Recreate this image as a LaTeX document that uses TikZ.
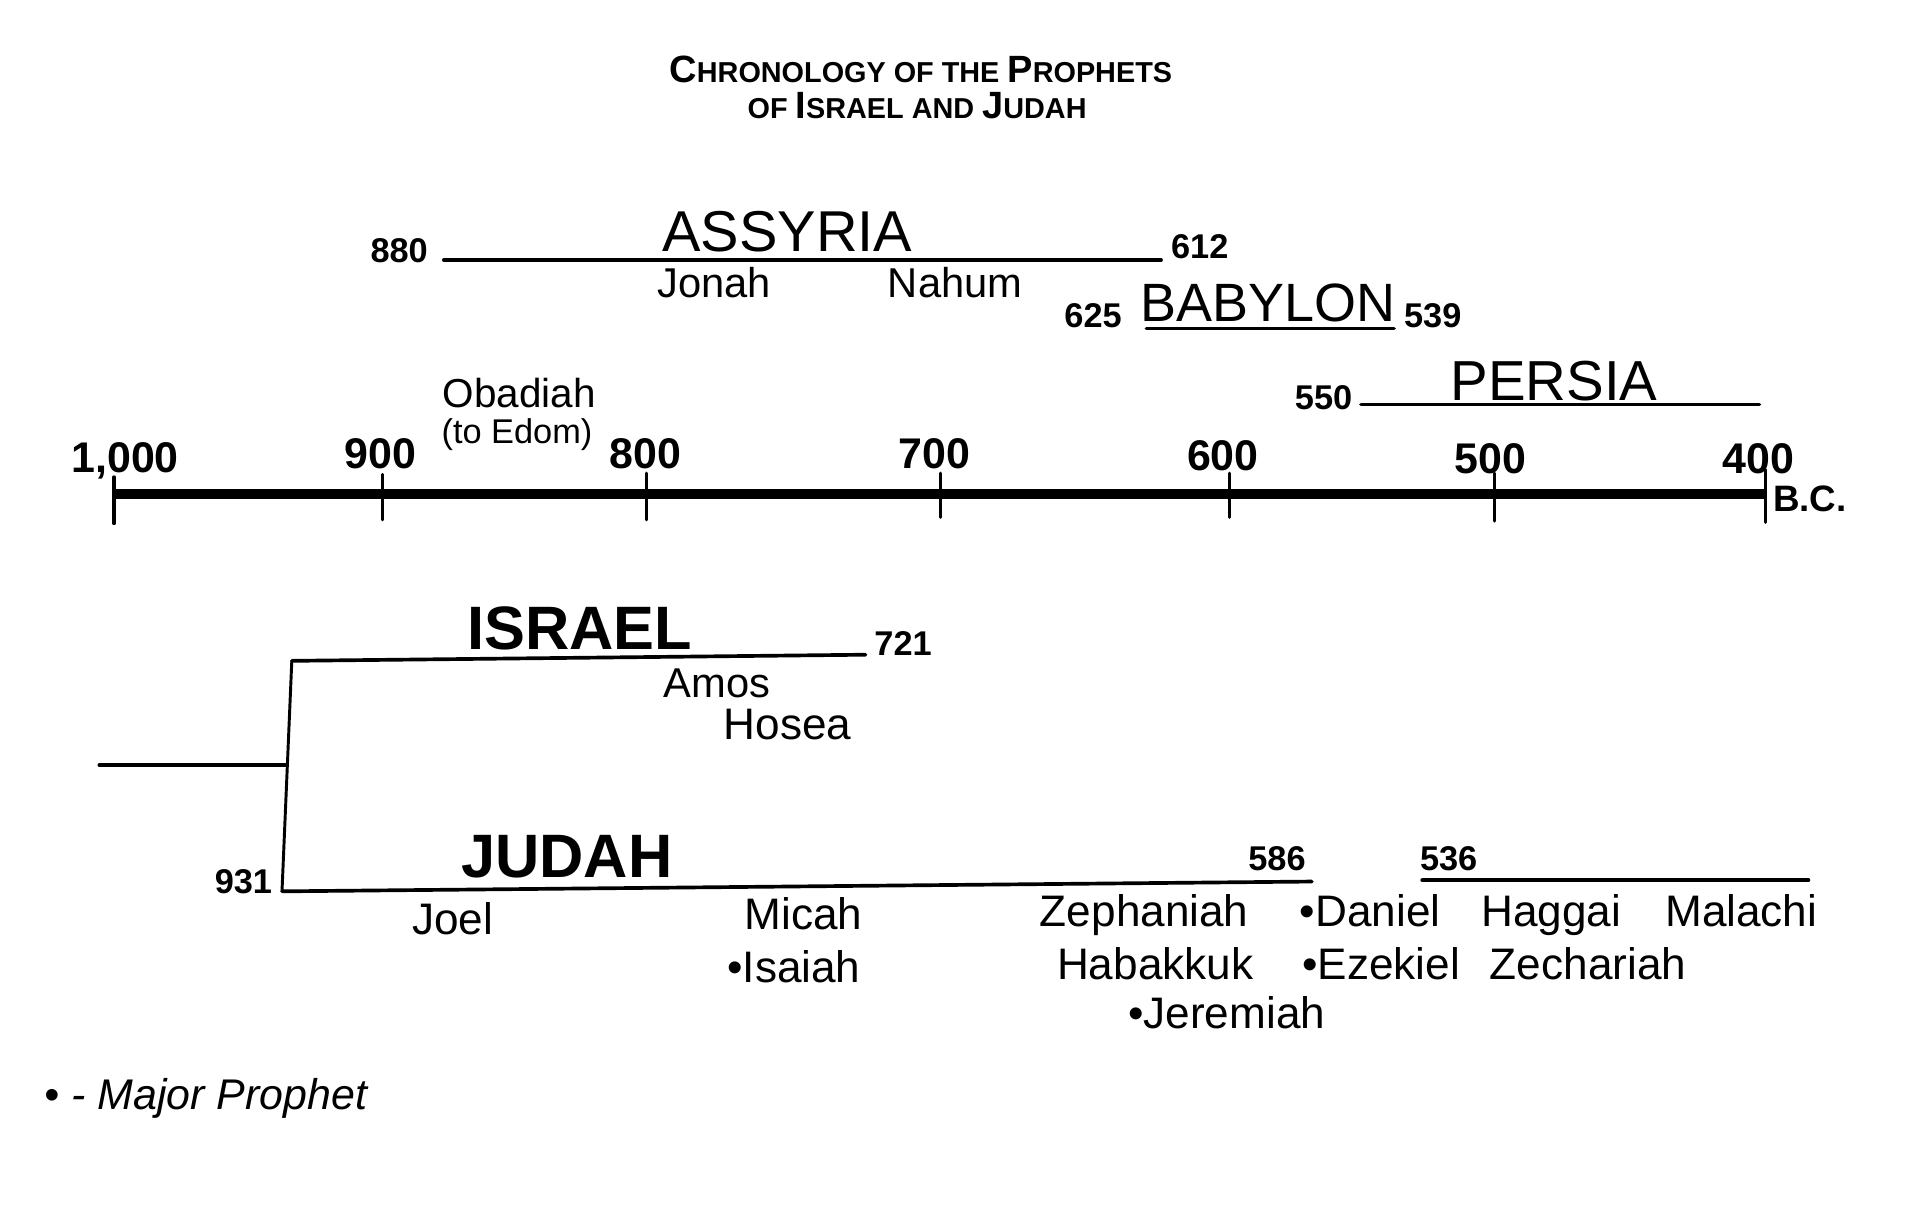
\documentclass[tikz,border=0pt]{standalone}
\usepackage{fontspec}
\setmainfont{Liberation Sans}
\newcommand\myfs[1]{\fontsize{#1}{#1}\selectfont}
\newcommand\bigc[1]{{\myfs{31}#1}}
\newcommand\smc[1]{{\myfs{23.5}#1}}
\begin{document}
\begin{tikzpicture}[x=1pt,y=-1pt,
  lbl/.style={inner sep=0pt, anchor=base west},
  num/.style={lbl, font=\bfseries\myfs{28}},
  axnum/.style={lbl, font=\bfseries\myfs{35}},
  prophet/.style={lbl, font=\myfs{34}},
  jprophet/.style={lbl, font=\myfs{36}},
  empire/.style={lbl, font=\myfs{46}},
  kingdom/.style={lbl, font=\bfseries\myfs{50}},
  ttl/.style={inner sep=0pt, anchor=base, font=\bfseries\myfs{23.5}},
  bar/.style={line width=3pt, line cap=round},
  axis/.style={line width=8pt},
  tick/.style={line width=2.6pt, line cap=round},
  branch/.style={line width=2.4pt}]
\useasboundingbox (0,0) rectangle (1566,995);

% title
\node[ttl] (t1) at (751,67) {\bigc{C}\smc{HRONOLOGY} \smc{OF} \smc{THE} \bigc{P}\smc{ROPHETS}};
\node[ttl] (t2) at (748,97) {\smc{OF} \bigc{I}\smc{SRAEL} \smc{AND} \bigc{J}\smc{UDAH}};

% Assyria
\node[empire, font=\myfs{47}] (assyria) at (540,205) {ASSYRIA};
\node[num] (n880) at (302,214) {880};
\node[num] (n612) at (955,211) {612};
\coordinate (asL) at (362,212);
\coordinate (asR) at (947,212);
\draw[bar] (asL) -- (asR);
\node[prophet] (jonah) at (536,243) {Jonah};
\node[prophet] (nahum) at (724,243) {Nahum};

% Babylon
\node[num] (n625) at (868,267) {625};
\node[empire, font=\myfs{44}] (babylon) at (930,262) {BABYLON};
\node[num] (n539) at (1145,267) {539};
\coordinate (bbL) at (935,268);
\coordinate (bbR) at (1137,268);
\draw[bar] (bbL) -- (bbR);

% Persia
\node[empire] (persia) at (1183,327) {PERSIA};
\node[num] (n550) at (1056,334) {550};
\coordinate (psL) at (1110,330);
\coordinate (psR) at (1435,330);
\draw[bar] (psL) -- (psR);

% Obadiah
\node[prophet, font=\myfs{33}] (obadiah) at (361,332) {Obadiah};
\node[prophet, font=\myfs{28}] (edom) at (360,362) {(to Edom)};

% axis
\node[axnum] (a1000) at (58,385) {1,000};
\node[axnum] (a900) at (281,382) {900};
\node[axnum] (a800) at (497,382) {800};
\node[axnum] (a700) at (733,382) {700};
\node[axnum] (a600) at (968,384) {600};
\node[axnum] (a500) at (1186,386) {500};
\node[axnum] (a400) at (1405,386) {400};
\coordinate (axL) at (93,403);
\coordinate (axR) at (1440,403);
\draw[axis] (axL) -- (axR);
\draw[tick] (93,389) -- (93,427);
\draw[tick] (312,387) -- (312,424);
\draw[tick] (527,386) -- (527,424);
\draw[tick] (767,386) -- (767,422);
\draw[tick] (1003,386) -- (1003,422);
\draw[tick] (1219,386) -- (1219,425);
\draw[tick] (1440,383) -- (1440,426);
\node[lbl, font=\bfseries\myfs{30}] (bc) at (1446,417) {B.C.};

% Israel
\node[kingdom] (israel) at (381,530) {ISRAEL};
\node[num] (n721) at (713,535) {721};
\coordinate (isL) at (238,539);
\coordinate (isR) at (706,534);
\draw[bar] (isL) -- (isR);
\node[prophet] (amos) at (541,569) {Amos};
\node[jprophet] (hosea) at (590,603) {Hosea};

% split
\coordinate (stem) at (81,624);
\coordinate (fork) at (234,624);
\coordinate (jdL) at (230,727);
\coordinate (jdR) at (1070,719);
\draw[bar] (stem) -- (fork);
\draw[branch] (isL) -- (jdL);
\draw[bar] (jdL) -- (jdR);

% Judah
\node[kingdom] (judah) at (376,716) {JUDAH};
\node[num] (n931) at (175,729) {931};
\node[num] (n586) at (1018,710) {586};
\node[num] (n536) at (1158,710) {536};
\coordinate (rtL) at (1160,718);
\coordinate (rtR) at (1475,718);
\draw[bar] (rtL) -- (rtR);

\node[jprophet] (joel) at (336,762) {Joel};
\node[jprophet] (micah) at (607,758) {Micah};
\node[jprophet] (isaiah) at (593,801) {•Isaiah};
\node[jprophet] (zeph) at (848,756) {Zephaniah};
\node[jprophet] (habak) at (862,799) {Habakkuk};
\node[jprophet] (jerem) at (920,839) {•Jeremiah};
\node[jprophet] (daniel) at (1060,756) {•Daniel};
\node[jprophet] (ezek) at (1062,799) {•Ezekiel};
\node[jprophet] (haggai) at (1208,756) {Haggai};
\node[jprophet] (zech) at (1215,799) {Zechariah};
\node[jprophet] (malachi) at (1358,756) {Malachi};

% legend
\node[lbl, font=\itshape\myfs{35}] (legend) at (36,905) {• - Major Prophet};
\end{tikzpicture}
\end{document}
